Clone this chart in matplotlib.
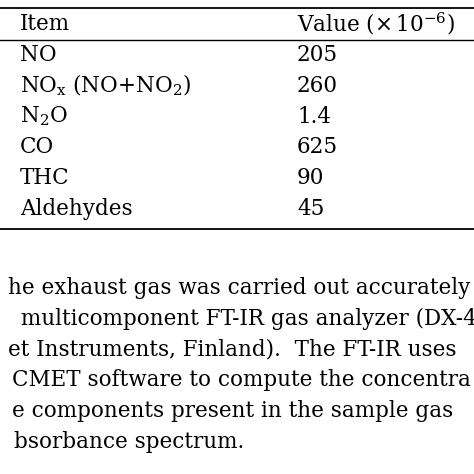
import matplotlib.pyplot as plt

items = ["NO", r"NO$_\mathrm{x}$ (NO+NO$_2$)", r"N$_2$O", "CO", "THC", "Aldehydes"]
values = ["205", "260", "1.4", "625", "90", "45"]
header = ["Item", r"Value ($\times\,10^{-6}$)"]
body_lines = [
    "he exhaust gas was carried out accurately",
    " multicomponent FT-IR gas analyzer (DX-4",
    "et Instruments, Finland).  The FT-IR uses",
    "CMET software to compute the concentra",
    "e components present in the sample gas",
    "bsorbance spectrum.",
]
line_x = [8, 14, 8, 12, 12, 14]

plt.rcParams['mathtext.fontset'] = 'dejavuserif'
plt.rcParams['font.family'] = 'DejaVu Serif'

fig = plt.figure(figsize=(4.74, 4.74), dpi=100)
ax = fig.add_axes([0, 0, 1, 1])
ax.set_xlim(0, 474)
ax.set_ylim(474, 0)
ax.axis("off")

fs = 15.5
ax.plot([0, 474], [8, 8], color="black", lw=1.3)
ax.plot([0, 474], [40, 40], color="black", lw=1.0)
ax.plot([0, 474], [229, 229], color="black", lw=1.3)

ax.text(20, 24, header[0], fontsize=fs, va="center")
ax.text(297, 24, header[1], fontsize=fs, va="center")
for i, (it, v) in enumerate(zip(items, values)):
    y = 55 + i * 30.8
    ax.text(20, y, it, fontsize=fs, va="center")
    ax.text(297, y, v, fontsize=fs, va="center")

for i, (s, x) in enumerate(zip(body_lines, line_x)):
    ax.text(x, 288 + i * 30.8, s, fontsize=fs, va="center")

fig.savefig("out.png", dpi=100)
